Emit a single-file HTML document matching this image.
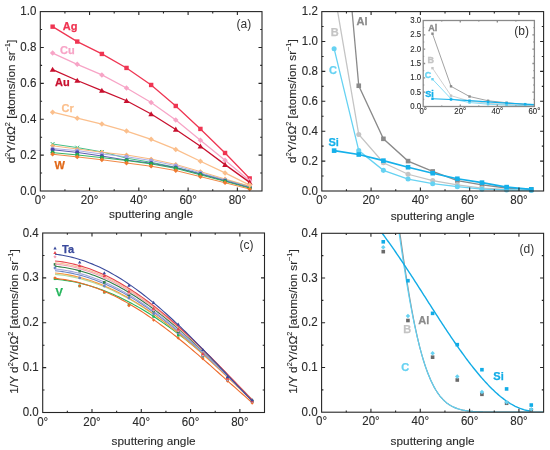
<!DOCTYPE html><html><head><meta charset="utf-8"><style>html,body{margin:0;padding:0;background:#fff;width:550px;height:450px;overflow:hidden}svg{display:block;filter:blur(0.3px)}text{font-family:"Liberation Sans",sans-serif}.k{stroke:#2a2a2a;stroke-width:0.12px}</style></head><body>
<svg width="550" height="450" viewBox="0 0 550 450" fill="#2a2a2a">
<defs>
<clipPath id="ca"><rect x="40.3" y="11.6" width="221.7" height="179.4"/></clipPath>
<clipPath id="cb"><rect x="321.8" y="11.6" width="221.8" height="179.4"/></clipPath>
<clipPath id="cc"><rect x="42.7" y="233" width="221.8" height="179.5"/></clipPath>
<clipPath id="cd"><rect x="321.6" y="233.3" width="222" height="178.9"/></clipPath>
<clipPath id="ci"><rect x="423.2" y="20.5" width="111.2" height="86"/></clipPath>
</defs>
<polyline points="52.62,144 77.25,147.59 101.88,151.89 126.52,158.17 151.15,162.3 175.78,167.32 200.42,173.6 225.05,179.88 249.68,186.34" fill="none" stroke="#30b878" stroke-width="0.9"/>
<path d="M50.72 142.1L54.52 145.9M50.72 145.9L54.52 142.1" stroke="#30b878" stroke-width="1"/>
<path d="M75.35 145.69L79.15 149.49M75.35 149.49L79.15 145.69" stroke="#30b878" stroke-width="1"/>
<path d="M99.98 149.99L103.78 153.79M99.98 153.79L103.78 149.99" stroke="#30b878" stroke-width="1"/>
<path d="M124.62 156.27L128.42 160.07M124.62 160.07L128.42 156.27" stroke="#30b878" stroke-width="1"/>
<path d="M149.25 160.4L153.05 164.2M149.25 164.2L153.05 160.4" stroke="#30b878" stroke-width="1"/>
<path d="M173.88 165.42L177.68 169.22M173.88 169.22L177.68 165.42" stroke="#30b878" stroke-width="1"/>
<path d="M198.52 171.7L202.32 175.5M198.52 175.5L202.32 171.7" stroke="#30b878" stroke-width="1"/>
<path d="M223.15 177.98L226.95 181.78M223.15 181.78L226.95 177.98" stroke="#30b878" stroke-width="1"/>
<path d="M247.78 184.44L251.58 188.24M247.78 188.24L251.58 184.44" stroke="#30b878" stroke-width="1"/>
<polyline points="52.62,145.79 77.25,149.02 101.88,152.25 126.52,154.94 151.15,159.07 175.78,164.45 200.42,171.62 225.05,178.98 249.68,186.16" fill="none" stroke="#f8b070" stroke-width="0.9"/>
<polygon points="52.62,143.42 54.99,145.79 52.62,148.17 50.24,145.79" fill="#f8b070"/>
<polygon points="77.25,146.65 79.62,149.02 77.25,151.4 74.88,149.02" fill="#f8b070"/>
<polygon points="101.88,149.87 104.26,152.25 101.88,154.62 99.51,152.25" fill="#f8b070"/>
<polygon points="126.52,152.57 128.89,154.94 126.52,157.32 124.14,154.94" fill="#f8b070"/>
<polygon points="151.15,156.69 153.52,159.07 151.15,161.44 148.77,159.07" fill="#f8b070"/>
<polygon points="175.78,162.07 178.16,164.45 175.78,166.82 173.41,164.45" fill="#f8b070"/>
<polygon points="200.42,169.25 202.79,171.62 200.42,174 198.04,171.62" fill="#f8b070"/>
<polygon points="225.05,176.61 227.43,178.98 225.05,181.36 222.68,178.98" fill="#f8b070"/>
<polygon points="249.68,183.78 252.06,186.16 249.68,188.53 247.31,186.16" fill="#f8b070"/>
<polyline points="52.62,148.48 77.25,150.63 101.88,154.04 126.52,156.73 151.15,160.5 175.78,165.7 200.42,172.88 225.05,180.06 249.68,187.23" fill="none" stroke="#a4a4e2" stroke-width="0.9"/>
<circle cx="52.62" cy="148.48" r="2.09" fill="#a4a4e2"/>
<circle cx="77.25" cy="150.63" r="2.09" fill="#a4a4e2"/>
<circle cx="101.88" cy="154.04" r="2.09" fill="#a4a4e2"/>
<circle cx="126.52" cy="156.73" r="2.09" fill="#a4a4e2"/>
<circle cx="151.15" cy="160.5" r="2.09" fill="#a4a4e2"/>
<circle cx="175.78" cy="165.7" r="2.09" fill="#a4a4e2"/>
<circle cx="200.42" cy="172.88" r="2.09" fill="#a4a4e2"/>
<circle cx="225.05" cy="180.06" r="2.09" fill="#a4a4e2"/>
<circle cx="249.68" cy="187.23" r="2.09" fill="#a4a4e2"/>
<polyline points="52.62,149.74 77.25,152.43 101.88,156.02 126.52,160.14 151.15,163.19 175.78,167.68 200.42,174.14 225.05,180.77 249.68,187.59" fill="none" stroke="#4848a8" stroke-width="0.9"/>
<circle cx="52.62" cy="149.74" r="2.09" fill="#4848a8"/>
<circle cx="77.25" cy="152.43" r="2.09" fill="#4848a8"/>
<circle cx="101.88" cy="156.02" r="2.09" fill="#4848a8"/>
<circle cx="126.52" cy="160.14" r="2.09" fill="#4848a8"/>
<circle cx="151.15" cy="163.19" r="2.09" fill="#4848a8"/>
<circle cx="175.78" cy="167.68" r="2.09" fill="#4848a8"/>
<circle cx="200.42" cy="174.14" r="2.09" fill="#4848a8"/>
<circle cx="225.05" cy="180.77" r="2.09" fill="#4848a8"/>
<circle cx="249.68" cy="187.59" r="2.09" fill="#4848a8"/>
<polyline points="52.62,152.61 77.25,154.94 101.88,157.63 126.52,160.5 151.15,163.91 175.78,168.4 200.42,174.85 225.05,181.31 249.68,188.13" fill="none" stroke="#22aa52" stroke-width="0.9"/>
<circle cx="52.62" cy="152.61" r="2.09" fill="#22aa52"/>
<circle cx="77.25" cy="154.94" r="2.09" fill="#22aa52"/>
<circle cx="101.88" cy="157.63" r="2.09" fill="#22aa52"/>
<circle cx="126.52" cy="160.5" r="2.09" fill="#22aa52"/>
<circle cx="151.15" cy="163.91" r="2.09" fill="#22aa52"/>
<circle cx="175.78" cy="168.4" r="2.09" fill="#22aa52"/>
<circle cx="200.42" cy="174.85" r="2.09" fill="#22aa52"/>
<circle cx="225.05" cy="181.31" r="2.09" fill="#22aa52"/>
<circle cx="249.68" cy="188.13" r="2.09" fill="#22aa52"/>
<polyline points="52.62,154.22 77.25,156.91 101.88,159.78 126.52,163.01 151.15,166.24 175.78,170.55 200.42,176.65 225.05,182.75 249.68,189.03" fill="none" stroke="#ee7a30" stroke-width="0.9"/>
<polygon points="52.62,151.85 54.99,154.22 52.62,156.6 50.24,154.22" fill="#ee7a30"/>
<polygon points="77.25,154.54 79.62,156.91 77.25,159.29 74.88,156.91" fill="#ee7a30"/>
<polygon points="101.88,157.41 104.26,159.78 101.88,162.16 99.51,159.78" fill="#ee7a30"/>
<polygon points="126.52,160.64 128.89,163.01 126.52,165.39 124.14,163.01" fill="#ee7a30"/>
<polygon points="151.15,163.87 153.52,166.24 151.15,168.62 148.77,166.24" fill="#ee7a30"/>
<polygon points="175.78,168.17 178.16,170.55 175.78,172.92 173.41,170.55" fill="#ee7a30"/>
<polygon points="200.42,174.27 202.79,176.65 200.42,179.02 198.04,176.65" fill="#ee7a30"/>
<polygon points="225.05,180.37 227.43,182.75 225.05,185.12 222.68,182.75" fill="#ee7a30"/>
<polygon points="249.68,186.65 252.06,189.03 249.68,191.4 247.31,189.03" fill="#ee7a30"/>
<polyline points="52.62,26.67 77.25,41.56 101.88,53.94 126.52,67.93 151.15,84.97 175.78,105.96 200.42,128.93 225.05,152.97 249.68,178.44" fill="none" stroke="#ef3552" stroke-width="1.3"/>
<rect x="50.42" y="24.47" width="4.4" height="4.4" fill="#ef3552"/>
<rect x="75.05" y="39.36" width="4.4" height="4.4" fill="#ef3552"/>
<rect x="99.68" y="51.74" width="4.4" height="4.4" fill="#ef3552"/>
<rect x="124.32" y="65.73" width="4.4" height="4.4" fill="#ef3552"/>
<rect x="148.95" y="82.77" width="4.4" height="4.4" fill="#ef3552"/>
<rect x="173.58" y="103.76" width="4.4" height="4.4" fill="#ef3552"/>
<rect x="198.22" y="126.73" width="4.4" height="4.4" fill="#ef3552"/>
<rect x="222.85" y="150.77" width="4.4" height="4.4" fill="#ef3552"/>
<rect x="247.48" y="176.24" width="4.4" height="4.4" fill="#ef3552"/>
<polyline points="52.62,53.04 77.25,64.34 101.88,74.93 126.52,88.02 151.15,102.56 175.78,119.96 200.42,140.23 225.05,160.14 249.68,180.77" fill="none" stroke="#f7a4c6" stroke-width="1.3"/>
<polygon points="52.62,50.29 55.37,53.04 52.62,55.79 49.87,53.04" fill="#f7a4c6"/>
<polygon points="77.25,61.59 80,64.34 77.25,67.09 74.5,64.34" fill="#f7a4c6"/>
<polygon points="101.88,72.18 104.63,74.93 101.88,77.68 99.13,74.93" fill="#f7a4c6"/>
<polygon points="126.52,85.27 129.27,88.02 126.52,90.77 123.77,88.02" fill="#f7a4c6"/>
<polygon points="151.15,99.81 153.9,102.56 151.15,105.31 148.4,102.56" fill="#f7a4c6"/>
<polygon points="175.78,117.21 178.53,119.96 175.78,122.71 173.03,119.96" fill="#f7a4c6"/>
<polygon points="200.42,137.48 203.17,140.23 200.42,142.98 197.67,140.23" fill="#f7a4c6"/>
<polygon points="225.05,157.39 227.8,160.14 225.05,162.89 222.3,160.14" fill="#f7a4c6"/>
<polygon points="249.68,178.02 252.43,180.77 249.68,183.52 246.93,180.77" fill="#f7a4c6"/>
<polyline points="52.62,69.55 77.25,80.49 101.88,90.54 126.52,100.76 151.15,114.04 175.78,129.47 200.42,146.33 225.05,164.63 249.68,182.39" fill="none" stroke="#c8102e" stroke-width="1.3"/>
<polygon points="52.62,66.69 55.48,71.83 49.76,71.83" fill="#c8102e"/>
<polygon points="77.25,77.63 80.11,82.78 74.39,82.78" fill="#c8102e"/>
<polygon points="101.88,87.68 104.74,92.82 99.02,92.82" fill="#c8102e"/>
<polygon points="126.52,97.9 129.38,103.05 123.66,103.05" fill="#c8102e"/>
<polygon points="151.15,111.18 154.01,116.33 148.29,116.33" fill="#c8102e"/>
<polygon points="175.78,126.61 178.64,131.75 172.92,131.75" fill="#c8102e"/>
<polygon points="200.42,143.47 203.28,148.62 197.56,148.62" fill="#c8102e"/>
<polygon points="225.05,161.77 227.91,166.92 222.19,166.92" fill="#c8102e"/>
<polygon points="249.68,179.53 252.54,184.68 246.82,184.68" fill="#c8102e"/>
<polyline points="52.62,112.24 77.25,118.16 101.88,124.08 126.52,131.08 151.15,139.33 175.78,149.38 200.42,161.22 225.05,172.88 249.68,185.08" fill="none" stroke="#fbbf8c" stroke-width="1.3"/>
<polygon points="52.62,109.49 55.37,112.24 52.62,114.99 49.87,112.24" fill="#fbbf8c"/>
<polygon points="77.25,115.41 80,118.16 77.25,120.91 74.5,118.16" fill="#fbbf8c"/>
<polygon points="101.88,121.33 104.63,124.08 101.88,126.83 99.13,124.08" fill="#fbbf8c"/>
<polygon points="126.52,128.33 129.27,131.08 126.52,133.83 123.77,131.08" fill="#fbbf8c"/>
<polygon points="151.15,136.58 153.9,139.33 151.15,142.08 148.4,139.33" fill="#fbbf8c"/>
<polygon points="175.78,146.63 178.53,149.38 175.78,152.13 173.03,149.38" fill="#fbbf8c"/>
<polygon points="200.42,158.47 203.17,161.22 200.42,163.97 197.67,161.22" fill="#fbbf8c"/>
<polygon points="225.05,170.13 227.8,172.88 225.05,175.63 222.3,172.88" fill="#fbbf8c"/>
<polygon points="249.68,182.33 252.43,185.08 249.68,187.83 246.93,185.08" fill="#fbbf8c"/>
<rect x="40.3" y="11.6" width="221.7" height="179.4" fill="none" stroke="#262626" stroke-width="1.1"/>
<path d="M64.93 191v-1.8 M64.93 11.6v1.8 M89.57 191v-3.5 M89.57 11.6v3.5 M114.2 191v-1.8 M114.2 11.6v1.8 M138.83 191v-3.5 M138.83 11.6v3.5 M163.47 191v-1.8 M163.47 11.6v1.8 M188.1 191v-3.5 M188.1 11.6v3.5 M212.73 191v-1.8 M212.73 11.6v1.8 M237.37 191v-3.5 M237.37 11.6v3.5 M40.3 173.06h1.8 M262 173.06h-1.8 M40.3 155.12h3.5 M262 155.12h-3.5 M40.3 137.18h1.8 M262 137.18h-1.8 M40.3 119.24h3.5 M262 119.24h-3.5 M40.3 101.3h1.8 M262 101.3h-1.8 M40.3 83.36h3.5 M262 83.36h-3.5 M40.3 65.42h1.8 M262 65.42h-1.8 M40.3 47.48h3.5 M262 47.48h-3.5 M40.3 29.54h1.8 M262 29.54h-1.8" stroke="#262626" stroke-width="1.1" fill="none"/>
<text class="k" transform="translate(36.3 194.6) scale(0.93 1)" text-anchor="end" font-size="12.4">0.0</text>
<text class="k" transform="translate(36.3 158.72) scale(0.93 1)" text-anchor="end" font-size="12.4">0.2</text>
<text class="k" transform="translate(36.3 122.84) scale(0.93 1)" text-anchor="end" font-size="12.4">0.4</text>
<text class="k" transform="translate(36.3 86.96) scale(0.93 1)" text-anchor="end" font-size="12.4">0.6</text>
<text class="k" transform="translate(36.3 51.08) scale(0.93 1)" text-anchor="end" font-size="12.4">0.8</text>
<text class="k" transform="translate(36.3 15.2) scale(0.93 1)" text-anchor="end" font-size="12.4">1.0</text>
<text class="k" transform="translate(40.3 204) scale(0.93 1)" text-anchor="middle" font-size="12.4">0°</text>
<text class="k" transform="translate(89.57 204) scale(0.93 1)" text-anchor="middle" font-size="12.4">20°</text>
<text class="k" transform="translate(138.83 204) scale(0.93 1)" text-anchor="middle" font-size="12.4">40°</text>
<text class="k" transform="translate(188.1 204) scale(0.93 1)" text-anchor="middle" font-size="12.4">60°</text>
<text class="k" transform="translate(237.37 204) scale(0.93 1)" text-anchor="middle" font-size="12.4">80°</text>
<text x="62.8" y="29.7" fill="#ef3552" font-size="11" font-weight="bold" text-anchor="start" stroke="#ef3552" stroke-width="0.25">Ag</text>
<text x="60" y="54" fill="#f7a4c6" font-size="11" font-weight="bold" text-anchor="start" stroke="#f7a4c6" stroke-width="0.25">Cu</text>
<text x="55" y="85.5" fill="#c8102e" font-size="11" font-weight="bold" text-anchor="start" stroke="#c8102e" stroke-width="0.25">Au</text>
<text x="61.5" y="112" fill="#fbbf8c" font-size="11" font-weight="bold" text-anchor="start" stroke="#fbbf8c" stroke-width="0.25">Cr</text>
<text x="54.5" y="168.8" fill="#e06818" font-size="11" font-weight="bold" text-anchor="start" stroke="#e06818" stroke-width="0.25">W</text>
<text x="236.5" y="28.2" fill="#333" font-size="12" text-anchor="start">(a)</text>
<polyline points="334.12,-188.73 358.77,85.75 383.41,138.82 408.06,161.1 432.7,171.42 457.34,180.53 481.99,184.87 506.63,188.01 531.28,189.5" fill="none" stroke="#8a8a8a" stroke-width="1.3" clip-path="url(#cb)"/>
<rect x="356.47" y="83.45" width="4.6" height="4.6" fill="#8a8a8a"/>
<rect x="381.11" y="136.52" width="4.6" height="4.6" fill="#8a8a8a"/>
<rect x="405.76" y="158.8" width="4.6" height="4.6" fill="#8a8a8a"/>
<rect x="430.4" y="169.12" width="4.6" height="4.6" fill="#8a8a8a"/>
<rect x="455.04" y="178.23" width="4.6" height="4.6" fill="#8a8a8a"/>
<rect x="479.69" y="182.57" width="4.6" height="4.6" fill="#8a8a8a"/>
<rect x="504.33" y="185.71" width="4.6" height="4.6" fill="#8a8a8a"/>
<rect x="528.98" y="187.2" width="4.6" height="4.6" fill="#8a8a8a"/>
<polyline points="334.12,-8.88 358.77,134.49 383.41,162.74 408.06,174.26 432.7,180.53 457.34,184.87 481.99,188.16 506.63,189.5 531.28,190.25" fill="none" stroke="#c4c4c4" stroke-width="1.3" clip-path="url(#cb)"/>
<circle cx="358.77" cy="134.49" r="2.53" fill="#c4c4c4"/>
<circle cx="383.41" cy="162.74" r="2.53" fill="#c4c4c4"/>
<circle cx="408.06" cy="174.26" r="2.53" fill="#c4c4c4"/>
<circle cx="432.7" cy="180.53" r="2.53" fill="#c4c4c4"/>
<circle cx="457.34" cy="184.87" r="2.53" fill="#c4c4c4"/>
<circle cx="481.99" cy="188.16" r="2.53" fill="#c4c4c4"/>
<circle cx="506.63" cy="189.5" r="2.53" fill="#c4c4c4"/>
<circle cx="531.28" cy="190.25" r="2.53" fill="#c4c4c4"/>
<polyline points="334.12,48.68 358.77,150.63 383.41,170.37 408.06,179.04 432.7,183.67 457.34,186.66 481.99,189.21 506.63,189.95 531.28,190.4" fill="none" stroke="#66d2f2" stroke-width="1.3" clip-path="url(#cb)"/>
<circle cx="334.12" cy="48.68" r="2.53" fill="#66d2f2"/>
<circle cx="358.77" cy="150.63" r="2.53" fill="#66d2f2"/>
<circle cx="383.41" cy="170.37" r="2.53" fill="#66d2f2"/>
<circle cx="408.06" cy="179.04" r="2.53" fill="#66d2f2"/>
<circle cx="432.7" cy="183.67" r="2.53" fill="#66d2f2"/>
<circle cx="457.34" cy="186.66" r="2.53" fill="#66d2f2"/>
<circle cx="481.99" cy="189.21" r="2.53" fill="#66d2f2"/>
<circle cx="506.63" cy="189.95" r="2.53" fill="#66d2f2"/>
<circle cx="531.28" cy="190.4" r="2.53" fill="#66d2f2"/>
<polyline points="334.12,150.63 358.77,154.52 383.41,160.65 408.06,167.23 432.7,173.21 457.34,178.74 481.99,182.63 506.63,187.11 531.28,189.36" fill="none" stroke="#14b0ea" stroke-width="1.7" clip-path="url(#cb)"/>
<rect x="331.82" y="148.33" width="4.6" height="4.6" fill="#14b0ea"/>
<rect x="356.47" y="152.22" width="4.6" height="4.6" fill="#14b0ea"/>
<rect x="381.11" y="158.35" width="4.6" height="4.6" fill="#14b0ea"/>
<rect x="405.76" y="164.93" width="4.6" height="4.6" fill="#14b0ea"/>
<rect x="430.4" y="170.91" width="4.6" height="4.6" fill="#14b0ea"/>
<rect x="455.04" y="176.44" width="4.6" height="4.6" fill="#14b0ea"/>
<rect x="479.69" y="180.33" width="4.6" height="4.6" fill="#14b0ea"/>
<rect x="504.33" y="184.81" width="4.6" height="4.6" fill="#14b0ea"/>
<rect x="528.98" y="187.06" width="4.6" height="4.6" fill="#14b0ea"/>
<rect x="321.8" y="11.6" width="221.8" height="179.4" fill="none" stroke="#262626" stroke-width="1.1"/>
<path d="M346.44 191v-1.8 M346.44 11.6v1.8 M371.09 191v-3.5 M371.09 11.6v3.5 M395.73 191v-1.8 M395.73 11.6v1.8 M420.38 191v-3.5 M420.38 11.6v3.5 M445.02 191v-1.8 M445.02 11.6v1.8 M469.67 191v-3.5 M469.67 11.6v3.5 M494.31 191v-1.8 M494.31 11.6v1.8 M518.96 191v-3.5 M518.96 11.6v3.5 M321.8 176.05h1.8 M543.6 176.05h-1.8 M321.8 161.1h3.5 M543.6 161.1h-3.5 M321.8 146.15h1.8 M543.6 146.15h-1.8 M321.8 131.2h3.5 M543.6 131.2h-3.5 M321.8 116.25h1.8 M543.6 116.25h-1.8 M321.8 101.3h3.5 M543.6 101.3h-3.5 M321.8 86.35h1.8 M543.6 86.35h-1.8 M321.8 71.4h3.5 M543.6 71.4h-3.5 M321.8 56.45h1.8 M543.6 56.45h-1.8 M321.8 41.5h3.5 M543.6 41.5h-3.5 M321.8 26.55h1.8 M543.6 26.55h-1.8" stroke="#262626" stroke-width="1.1" fill="none"/>
<text class="k" transform="translate(317.8 194.6) scale(0.93 1)" text-anchor="end" font-size="12.4">0.0</text>
<text class="k" transform="translate(317.8 164.7) scale(0.93 1)" text-anchor="end" font-size="12.4">0.2</text>
<text class="k" transform="translate(317.8 134.8) scale(0.93 1)" text-anchor="end" font-size="12.4">0.4</text>
<text class="k" transform="translate(317.8 104.9) scale(0.93 1)" text-anchor="end" font-size="12.4">0.6</text>
<text class="k" transform="translate(317.8 75) scale(0.93 1)" text-anchor="end" font-size="12.4">0.8</text>
<text class="k" transform="translate(317.8 45.1) scale(0.93 1)" text-anchor="end" font-size="12.4">1.0</text>
<text class="k" transform="translate(317.8 15.2) scale(0.93 1)" text-anchor="end" font-size="12.4">1.2</text>
<text class="k" transform="translate(321.8 204) scale(0.93 1)" text-anchor="middle" font-size="12.4">0°</text>
<text class="k" transform="translate(371.09 204) scale(0.93 1)" text-anchor="middle" font-size="12.4">20°</text>
<text class="k" transform="translate(420.38 204) scale(0.93 1)" text-anchor="middle" font-size="12.4">40°</text>
<text class="k" transform="translate(469.67 204) scale(0.93 1)" text-anchor="middle" font-size="12.4">60°</text>
<text class="k" transform="translate(518.96 204) scale(0.93 1)" text-anchor="middle" font-size="12.4">80°</text>
<text x="356.5" y="25.2" fill="#8a8a8a" font-size="11" font-weight="bold" text-anchor="start" stroke="#8a8a8a" stroke-width="0.25">Al</text>
<text x="330.8" y="35.7" fill="#c4c4c4" font-size="11" font-weight="bold" text-anchor="start" stroke="#c4c4c4" stroke-width="0.25">B</text>
<text x="329" y="73.6" fill="#66d2f2" font-size="11" font-weight="bold" text-anchor="start" stroke="#66d2f2" stroke-width="0.25">C</text>
<text x="328.5" y="145.8" fill="#14b0ea" font-size="11" font-weight="bold" text-anchor="start" stroke="#14b0ea" stroke-width="0.25">Si</text>
<rect x="423.2" y="20.5" width="111.2" height="86" fill="#fff"/>
<polyline points="432.47,33.69 451,86.32 469.53,96.5 488.07,100.77 506.6,102.74 525.13,104.49 543.67,105.32" fill="none" stroke="#8a8a8a" stroke-width="0.8" clip-path="url(#ci)"/>
<rect x="431.27" y="32.49" width="2.4" height="2.4" fill="#8a8a8a"/>
<rect x="449.8" y="85.12" width="2.4" height="2.4" fill="#8a8a8a"/>
<rect x="468.33" y="95.3" width="2.4" height="2.4" fill="#8a8a8a"/>
<rect x="486.87" y="99.57" width="2.4" height="2.4" fill="#8a8a8a"/>
<rect x="505.4" y="101.54" width="2.4" height="2.4" fill="#8a8a8a"/>
<rect x="523.93" y="103.29" width="2.4" height="2.4" fill="#8a8a8a"/>
<polyline points="432.47,68.17 451,95.66 469.53,101.08 488.07,103.29 506.6,104.49 525.13,105.32 543.67,105.96" fill="none" stroke="#c4c4c4" stroke-width="0.8" clip-path="url(#ci)"/>
<rect x="431.27" y="66.97" width="2.4" height="2.4" fill="#c4c4c4"/>
<rect x="449.8" y="94.46" width="2.4" height="2.4" fill="#c4c4c4"/>
<rect x="468.33" y="99.88" width="2.4" height="2.4" fill="#c4c4c4"/>
<rect x="486.87" y="102.09" width="2.4" height="2.4" fill="#c4c4c4"/>
<rect x="505.4" y="103.29" width="2.4" height="2.4" fill="#c4c4c4"/>
<rect x="523.93" y="104.12" width="2.4" height="2.4" fill="#c4c4c4"/>
<polyline points="432.47,79.21 451,98.76 469.53,102.54 488.07,104.21 506.6,105.1 525.13,105.67 543.67,106.16" fill="none" stroke="#66d2f2" stroke-width="0.8" clip-path="url(#ci)"/>
<rect x="431.27" y="78.01" width="2.4" height="2.4" fill="#66d2f2"/>
<rect x="449.8" y="97.56" width="2.4" height="2.4" fill="#66d2f2"/>
<rect x="468.33" y="101.34" width="2.4" height="2.4" fill="#66d2f2"/>
<rect x="486.87" y="103.01" width="2.4" height="2.4" fill="#66d2f2"/>
<rect x="505.4" y="103.9" width="2.4" height="2.4" fill="#66d2f2"/>
<rect x="523.93" y="104.47" width="2.4" height="2.4" fill="#66d2f2"/>
<polyline points="432.47,98.76 451,99.51 469.53,100.68 488.07,101.94 506.6,103.09 525.13,104.15 543.67,104.89" fill="none" stroke="#14b0ea" stroke-width="1.2" clip-path="url(#ci)"/>
<rect x="431.27" y="97.56" width="2.4" height="2.4" fill="#14b0ea"/>
<rect x="449.8" y="98.31" width="2.4" height="2.4" fill="#14b0ea"/>
<rect x="468.33" y="99.48" width="2.4" height="2.4" fill="#14b0ea"/>
<rect x="486.87" y="100.74" width="2.4" height="2.4" fill="#14b0ea"/>
<rect x="505.4" y="101.89" width="2.4" height="2.4" fill="#14b0ea"/>
<rect x="523.93" y="102.95" width="2.4" height="2.4" fill="#14b0ea"/>
<rect x="423.2" y="20.5" width="111.2" height="86" fill="none" stroke="#8a8a8a" stroke-width="1.3"/>
<path d="M441.73 106.5v-1 M441.73 20.5v1 M460.27 106.5v-2 M460.27 20.5v2 M478.8 106.5v-1 M478.8 20.5v1 M497.33 106.5v-2 M497.33 20.5v2 M515.87 106.5v-1 M515.87 20.5v1 M423.2 99.33h1 M534.4 99.33h-1 M423.2 92.17h2 M534.4 92.17h-2 M423.2 85h1 M534.4 85h-1 M423.2 77.83h2 M534.4 77.83h-2 M423.2 70.67h1 M534.4 70.67h-1 M423.2 63.5h2 M534.4 63.5h-2 M423.2 56.33h1 M534.4 56.33h-1 M423.2 49.17h2 M534.4 49.17h-2 M423.2 42h1 M534.4 42h-1 M423.2 34.83h2 M534.4 34.83h-2 M423.2 27.67h1 M534.4 27.67h-1" stroke="#8a8a8a" stroke-width="1.3" fill="none"/>
<text class="k" transform="translate(421.2 108.94) scale(0.93 1)" text-anchor="end" font-size="8.4">0.0</text>
<text class="k" transform="translate(421.2 94.6) scale(0.93 1)" text-anchor="end" font-size="8.4">0.5</text>
<text class="k" transform="translate(421.2 80.27) scale(0.93 1)" text-anchor="end" font-size="8.4">1.0</text>
<text class="k" transform="translate(421.2 65.94) scale(0.93 1)" text-anchor="end" font-size="8.4">1.5</text>
<text class="k" transform="translate(421.2 51.6) scale(0.93 1)" text-anchor="end" font-size="8.4">2.0</text>
<text class="k" transform="translate(421.2 37.27) scale(0.93 1)" text-anchor="end" font-size="8.4">2.5</text>
<text class="k" transform="translate(421.2 22.94) scale(0.93 1)" text-anchor="end" font-size="8.4">3.0</text>
<text class="k" transform="translate(423.2 114.3) scale(0.93 1)" text-anchor="middle" font-size="8.4">0°</text>
<text class="k" transform="translate(460.27 114.3) scale(0.93 1)" text-anchor="middle" font-size="8.4">20°</text>
<text class="k" transform="translate(497.33 114.3) scale(0.93 1)" text-anchor="middle" font-size="8.4">40°</text>
<text class="k" transform="translate(534.4 114.3) scale(0.93 1)" text-anchor="middle" font-size="8.4">60°</text>
<text x="428.3" y="31.4" fill="#8a8a8a" font-size="9" font-weight="bold" text-anchor="start" stroke="#8a8a8a" stroke-width="0.35">Al</text>
<text x="427.4" y="63" fill="#c4c4c4" font-size="9" font-weight="bold" text-anchor="start" stroke="#c4c4c4" stroke-width="0.35">B</text>
<text x="424.8" y="77.5" fill="#66d2f2" font-size="9" font-weight="bold" text-anchor="start" stroke="#66d2f2" stroke-width="0.35">C</text>
<text x="425.3" y="97.3" fill="#14b0ea" font-size="9" font-weight="bold" text-anchor="start" stroke="#14b0ea" stroke-width="0.35">Si</text>
<text x="514.3" y="35.2" fill="#333" font-size="12" text-anchor="start">(b)</text>
<polyline points="55.02,279.26 57.49,279.47 59.95,279.72 62.42,280.02 64.88,280.34 67.34,280.71 69.81,281.12 72.27,281.56 74.74,282.05 77.2,282.57 79.67,283.13 82.13,283.72 84.6,284.36 87.06,285.03 89.52,285.74 91.99,286.48 94.45,287.27 96.92,288.09 99.38,288.94 101.85,289.83 104.31,290.76 106.78,291.73 109.24,292.72 111.7,293.76 114.17,294.83 116.63,295.93 119.1,297.07 121.56,298.24 124.03,299.45 126.49,300.69 128.96,301.96 131.42,303.27 133.88,304.61 136.35,305.98 138.81,307.38 141.28,308.82 143.74,310.28 146.21,311.78 148.67,313.31 151.14,314.86 153.6,316.45 156.06,318.06 158.53,319.71 160.99,321.38 163.46,323.08 165.92,324.81 168.39,326.56 170.85,328.34 173.32,330.15 175.78,331.99 178.24,333.85 180.71,335.73 183.17,337.64 185.64,339.57 188.1,341.53 190.57,343.51 193.03,345.51 195.5,347.54 197.96,349.58 200.42,351.65 202.89,353.74 205.35,355.85 207.82,357.98 210.28,360.13 212.75,362.3 215.21,364.49 217.68,366.7 220.14,368.92 222.6,371.17 225.07,373.43 227.53,375.71 230,378.01 232.46,380.32 234.93,382.65 237.39,385 239.86,387.37 242.32,389.75 244.78,392.15 247.25,394.58 249.71,397.02 252.18,399.49" fill="none" stroke="#22b45a" stroke-width="1.1"/>
<rect x="53.72" y="277.47" width="2.6" height="2.6" fill="#22b45a"/>
<rect x="78.37" y="284.65" width="2.6" height="2.6" fill="#22b45a"/>
<rect x="103.01" y="290.94" width="2.6" height="2.6" fill="#22b45a"/>
<rect x="127.66" y="303.5" width="2.6" height="2.6" fill="#22b45a"/>
<rect x="152.3" y="315.17" width="2.6" height="2.6" fill="#22b45a"/>
<rect x="176.94" y="334.01" width="2.6" height="2.6" fill="#22b45a"/>
<rect x="201.59" y="355.11" width="2.6" height="2.6" fill="#22b45a"/>
<rect x="226.23" y="377.99" width="2.6" height="2.6" fill="#22b45a"/>
<rect x="250.88" y="400.43" width="2.6" height="2.6" fill="#22b45a"/>
<polyline points="55.02,278.42 57.49,278.66 59.95,278.95 62.42,279.28 64.88,279.65 67.34,280.06 69.81,280.52 72.27,281.02 74.74,281.57 77.2,282.15 79.67,282.78 82.13,283.45 84.6,284.16 87.06,284.92 89.52,285.71 91.99,286.55 94.45,287.43 96.92,288.34 99.38,289.3 101.85,290.3 104.31,291.33 106.78,292.41 109.24,293.52 111.7,294.68 114.17,295.87 116.63,297.09 119.1,298.36 121.56,299.66 124.03,300.99 126.49,302.36 128.96,303.77 131.42,305.21 133.88,306.68 136.35,308.19 138.81,309.73 141.28,311.3 143.74,312.9 146.21,314.53 148.67,316.2 151.14,317.89 153.6,319.61 156.06,321.36 158.53,323.14 160.99,324.94 163.46,326.77 165.92,328.63 168.39,330.51 170.85,332.41 173.32,334.34 175.78,336.29 178.24,338.26 180.71,340.25 183.17,342.26 185.64,344.29 188.1,346.34 190.57,348.41 193.03,350.49 195.5,352.59 197.96,354.7 200.42,356.83 202.89,358.97 205.35,361.12 207.82,363.28 210.28,365.45 212.75,367.63 215.21,369.82 217.68,372.02 220.14,374.22 222.6,376.42 225.07,378.63 227.53,380.83 230,383.04 232.46,385.25 234.93,387.45 237.39,389.65 239.86,391.85 242.32,394.03 244.78,396.2 247.25,398.36 249.71,400.51 252.18,402.63" fill="none" stroke="#ee6a2a" stroke-width="1.1"/>
<polygon points="55.02,276.25 56.65,277.88 55.02,279.5 53.4,277.88" fill="#ee6a2a"/>
<polygon points="79.67,284.33 81.29,285.95 79.67,287.58 78.04,285.95" fill="#ee6a2a"/>
<polygon points="104.31,290.61 105.94,292.24 104.31,293.86 102.69,292.24" fill="#ee6a2a"/>
<polygon points="128.96,304.07 130.58,305.7 128.96,307.32 127.33,305.7" fill="#ee6a2a"/>
<polygon points="153.6,318.43 155.23,320.06 153.6,321.68 151.98,320.06" fill="#ee6a2a"/>
<polygon points="178.24,336.38 179.87,338.01 178.24,339.63 176.62,338.01" fill="#ee6a2a"/>
<polygon points="202.89,357.02 204.51,358.65 202.89,360.27 201.26,358.65" fill="#ee6a2a"/>
<polygon points="227.53,379.46 229.16,381.09 227.53,382.71 225.91,381.09" fill="#ee6a2a"/>
<polygon points="252.18,401.45 253.8,403.08 252.18,404.7 250.55,403.08" fill="#ee6a2a"/>
<polyline points="55.02,274.36 57.49,274.6 59.95,274.87 62.42,275.18 64.88,275.54 67.34,275.94 69.81,276.38 72.27,276.86 74.74,277.39 77.2,277.95 79.67,278.56 82.13,279.2 84.6,279.89 87.06,280.62 89.52,281.38 91.99,282.19 94.45,283.04 96.92,283.92 99.38,284.85 101.85,285.81 104.31,286.82 106.78,287.86 109.24,288.93 111.7,290.05 114.17,291.2 116.63,292.4 119.1,293.62 121.56,294.89 124.03,296.19 126.49,297.52 128.96,298.89 131.42,300.29 133.88,301.73 136.35,303.2 138.81,304.71 141.28,306.25 143.74,307.82 146.21,309.42 148.67,311.05 151.14,312.72 153.6,314.41 156.06,316.14 158.53,317.89 160.99,319.68 163.46,321.49 165.92,323.33 168.39,325.19 170.85,327.09 173.32,329.01 175.78,330.95 178.24,332.92 180.71,334.91 183.17,336.93 185.64,338.97 188.1,341.03 190.57,343.12 193.03,345.22 195.5,347.35 197.96,349.5 200.42,351.66 202.89,353.85 205.35,356.05 207.82,358.27 210.28,360.5 212.75,362.75 215.21,365.02 217.68,367.3 220.14,369.6 222.6,371.91 225.07,374.23 227.53,376.56 230,378.9 232.46,381.26 234.93,383.62 237.39,386 239.86,388.38 242.32,390.77 244.78,393.16 247.25,395.56 249.71,397.97 252.18,400.38" fill="none" stroke="#b0dca0" stroke-width="1.1"/>
<polyline points="55.02,273.03 57.49,273.27 59.95,273.55 62.42,273.88 64.88,274.25 67.34,274.66 69.81,275.11 72.27,275.61 74.74,276.14 77.2,276.72 79.67,277.35 82.13,278.01 84.6,278.72 87.06,279.47 89.52,280.25 91.99,281.08 94.45,281.95 96.92,282.87 99.38,283.82 101.85,284.81 104.31,285.84 106.78,286.91 109.24,288.01 111.7,289.16 114.17,290.35 116.63,291.57 119.1,292.83 121.56,294.12 124.03,295.46 126.49,296.83 128.96,298.23 131.42,299.67 133.88,301.14 136.35,302.65 138.81,304.19 141.28,305.77 143.74,307.38 146.21,309.02 148.67,310.69 151.14,312.39 153.6,314.13 156.06,315.89 158.53,317.68 160.99,319.5 163.46,321.35 165.92,323.23 168.39,325.14 170.85,327.07 173.32,329.02 175.78,331 178.24,333.01 180.71,335.04 183.17,337.09 185.64,339.17 188.1,341.26 190.57,343.38 193.03,345.52 195.5,347.68 197.96,349.85 200.42,352.05 202.89,354.26 205.35,356.49 207.82,358.73 210.28,360.99 212.75,363.26 215.21,365.55 217.68,367.85 220.14,370.16 222.6,372.48 225.07,374.81 227.53,377.15 230,379.5 232.46,381.86 234.93,384.22 237.39,386.59 239.86,388.96 242.32,391.33 244.78,393.71 247.25,396.08 249.71,398.46 252.18,400.83" fill="none" stroke="#f59a40" stroke-width="1.1"/>
<polyline points="55.02,270.79 57.49,271.03 59.95,271.32 62.42,271.64 64.88,272.01 67.34,272.43 69.81,272.88 72.27,273.38 74.74,273.93 77.2,274.51 79.67,275.14 82.13,275.81 84.6,276.52 87.06,277.27 89.52,278.07 91.99,278.9 94.45,279.78 96.92,280.7 99.38,281.66 101.85,282.66 104.31,283.69 106.78,284.77 109.24,285.89 111.7,287.04 114.17,288.24 116.63,289.47 119.1,290.74 121.56,292.05 124.03,293.39 126.49,294.77 128.96,296.19 131.42,297.64 133.88,299.13 136.35,300.65 138.81,302.21 141.28,303.8 143.74,305.42 146.21,307.08 148.67,308.77 151.14,310.49 153.6,312.24 156.06,314.02 158.53,315.83 160.99,317.67 163.46,319.54 165.92,321.44 168.39,323.37 170.85,325.32 173.32,327.3 175.78,329.3 178.24,331.33 180.71,333.39 183.17,335.47 185.64,337.57 188.1,339.69 190.57,341.84 193.03,344 195.5,346.19 197.96,348.4 200.42,350.62 202.89,352.87 205.35,355.13 207.82,357.41 210.28,359.7 212.75,362.01 215.21,364.34 217.68,366.67 220.14,369.03 222.6,371.39 225.07,373.76 227.53,376.15 230,378.54 232.46,380.95 234.93,383.36 237.39,385.78 239.86,388.2 242.32,390.63 244.78,393.07 247.25,395.5 249.71,397.94 252.18,400.38" fill="none" stroke="#6c84c4" stroke-width="1.1"/>
<circle cx="55.02" cy="268" r="1.43" fill="#6c84c4"/>
<circle cx="79.67" cy="277.88" r="1.43" fill="#6c84c4"/>
<circle cx="104.31" cy="285.95" r="1.43" fill="#6c84c4"/>
<circle cx="128.96" cy="298.07" r="1.43" fill="#6c84c4"/>
<circle cx="153.6" cy="313.77" r="1.43" fill="#6c84c4"/>
<circle cx="178.24" cy="333.07" r="1.43" fill="#6c84c4"/>
<circle cx="202.89" cy="355.96" r="1.43" fill="#6c84c4"/>
<circle cx="227.53" cy="379.74" r="1.43" fill="#6c84c4"/>
<circle cx="252.18" cy="401.28" r="1.43" fill="#6c84c4"/>
<polyline points="55.02,269.01 57.49,269.25 59.95,269.54 62.42,269.87 64.88,270.25 67.34,270.67 69.81,271.14 72.27,271.64 74.74,272.2 77.2,272.79 79.67,273.43 82.13,274.11 84.6,274.84 87.06,275.6 89.52,276.41 91.99,277.26 94.45,278.15 96.92,279.09 99.38,280.06 101.85,281.08 104.31,282.13 106.78,283.23 109.24,284.37 111.7,285.54 114.17,286.76 116.63,288.01 119.1,289.3 121.56,290.63 124.03,292 126.49,293.4 128.96,294.84 131.42,296.32 133.88,297.83 136.35,299.38 138.81,300.96 141.28,302.58 143.74,304.23 146.21,305.91 148.67,307.63 151.14,309.38 153.6,311.16 156.06,312.97 158.53,314.81 160.99,316.68 163.46,318.57 165.92,320.5 168.39,322.46 170.85,324.44 173.32,326.45 175.78,328.48 178.24,330.54 180.71,332.63 183.17,334.74 185.64,336.87 188.1,339.02 190.57,341.2 193.03,343.4 195.5,345.61 197.96,347.85 200.42,350.11 202.89,352.38 205.35,354.67 207.82,356.98 210.28,359.3 212.75,361.64 215.21,364 217.68,366.36 220.14,368.74 222.6,371.13 225.07,373.53 227.53,375.94 230,378.36 232.46,380.79 234.93,383.23 237.39,385.67 239.86,388.12 242.32,390.57 244.78,393.02 247.25,395.47 249.71,397.93 252.18,400.38" fill="none" stroke="#a0a4dc" stroke-width="1.1"/>
<polyline points="55.02,266.32 57.49,266.57 59.95,266.86 62.42,267.2 64.88,267.58 67.34,268 69.81,268.47 72.27,268.99 74.74,269.55 77.2,270.15 79.67,270.79 82.13,271.48 84.6,272.22 87.06,272.99 89.52,273.81 91.99,274.67 94.45,275.57 96.92,276.52 99.38,277.51 101.85,278.53 104.31,279.6 106.78,280.71 109.24,281.86 111.7,283.05 114.17,284.28 116.63,285.55 119.1,286.86 121.56,288.21 124.03,289.59 126.49,291.01 128.96,292.47 131.42,293.97 133.88,295.5 136.35,297.07 138.81,298.67 141.28,300.31 143.74,301.98 146.21,303.68 148.67,305.42 151.14,307.2 153.6,309 156.06,310.83 158.53,312.7 160.99,314.6 163.46,316.52 165.92,318.48 168.39,320.46 170.85,322.47 173.32,324.51 175.78,326.58 178.24,328.67 180.71,330.79 183.17,332.93 185.64,335.1 188.1,337.29 190.57,339.5 193.03,341.73 195.5,343.99 197.96,346.26 200.42,348.56 202.89,350.87 205.35,353.2 207.82,355.55 210.28,357.92 212.75,360.3 215.21,362.7 217.68,365.11 220.14,367.54 222.6,369.98 225.07,372.43 227.53,374.89 230,377.36 232.46,379.85 234.93,382.34 237.39,384.83 239.86,387.34 242.32,389.85 244.78,392.37 247.25,394.89 249.71,397.41 252.18,399.94" fill="none" stroke="#2e7d46" stroke-width="1.1"/>
<rect x="53.72" y="263.11" width="2.6" height="2.6" fill="#2e7d46"/>
<rect x="78.37" y="269.84" width="2.6" height="2.6" fill="#2e7d46"/>
<rect x="103.01" y="281.06" width="2.6" height="2.6" fill="#2e7d46"/>
<rect x="127.66" y="293.63" width="2.6" height="2.6" fill="#2e7d46"/>
<rect x="152.3" y="309.78" width="2.6" height="2.6" fill="#2e7d46"/>
<rect x="176.94" y="330.43" width="2.6" height="2.6" fill="#2e7d46"/>
<rect x="201.59" y="353.76" width="2.6" height="2.6" fill="#2e7d46"/>
<rect x="226.23" y="377.54" width="2.6" height="2.6" fill="#2e7d46"/>
<rect x="250.88" y="399.53" width="2.6" height="2.6" fill="#2e7d46"/>
<polyline points="55.02,264.09 57.49,264.34 59.95,264.64 62.42,264.98 64.88,265.37 67.34,265.81 69.81,266.29 72.27,266.81 74.74,267.38 77.2,268 79.67,268.66 82.13,269.36 84.6,270.11 87.06,270.9 89.52,271.74 91.99,272.62 94.45,273.54 96.92,274.5 99.38,275.51 101.85,276.56 104.31,277.65 106.78,278.79 109.24,279.96 111.7,281.17 114.17,282.43 116.63,283.72 119.1,285.06 121.56,286.43 124.03,287.85 126.49,289.3 128.96,290.79 131.42,292.31 133.88,293.88 136.35,295.47 138.81,297.11 141.28,298.78 143.74,300.49 146.21,302.22 148.67,304 151.14,305.8 153.6,307.64 156.06,309.51 158.53,311.42 160.99,313.35 163.46,315.31 165.92,317.3 168.39,319.32 170.85,321.37 173.32,323.45 175.78,325.55 178.24,327.68 180.71,329.84 183.17,332.02 185.64,334.22 188.1,336.45 190.57,338.7 193.03,340.97 195.5,343.26 197.96,345.58 200.42,347.91 202.89,350.26 205.35,352.63 207.82,355.02 210.28,357.42 212.75,359.84 215.21,362.28 217.68,364.72 220.14,367.18 222.6,369.66 225.07,372.14 227.53,374.64 230,377.14 232.46,379.65 234.93,382.17 237.39,384.7 239.86,387.23 242.32,389.77 244.78,392.31 247.25,394.85 249.71,397.39 252.18,399.94" fill="none" stroke="#f2a0b8" stroke-width="1.1"/>
<polygon points="55.02,255.16 56.65,256.78 55.02,258.41 53.4,256.78" fill="#f2a0b8"/>
<polygon points="79.67,266.38 81.29,268 79.67,269.63 78.04,268" fill="#f2a0b8"/>
<polygon points="104.31,276.25 105.94,277.88 104.31,279.5 102.69,277.88" fill="#f2a0b8"/>
<polygon points="128.96,291.96 130.58,293.58 128.96,295.21 127.33,293.58" fill="#f2a0b8"/>
<polygon points="153.6,308.56 155.23,310.19 153.6,311.81 151.98,310.19" fill="#f2a0b8"/>
<polygon points="178.24,329.2 179.87,330.83 178.24,332.45 176.62,330.83" fill="#f2a0b8"/>
<polygon points="202.89,353.44 204.51,355.06 202.89,356.69 201.26,355.06" fill="#f2a0b8"/>
<polygon points="227.53,377.67 229.16,379.29 227.53,380.92 225.91,379.29" fill="#f2a0b8"/>
<polygon points="252.18,399.66 253.8,401.28 252.18,402.91 250.55,401.28" fill="#f2a0b8"/>
<polyline points="55.02,262.75 57.49,263.01 59.95,263.31 62.42,263.66 64.88,264.05 67.34,264.49 69.81,264.98 72.27,265.51 74.74,266.09 77.2,266.71 79.67,267.38 82.13,268.09 84.6,268.85 87.06,269.65 89.52,270.5 91.99,271.39 94.45,272.32 96.92,273.3 99.38,274.32 101.85,275.38 104.31,276.48 106.78,277.63 109.24,278.82 111.7,280.05 114.17,281.32 116.63,282.63 119.1,283.98 121.56,285.37 124.03,286.8 126.49,288.27 128.96,289.78 131.42,291.32 133.88,292.9 136.35,294.52 138.81,296.17 141.28,297.87 143.74,299.59 146.21,301.35 148.67,303.14 151.14,304.97 153.6,306.83 156.06,308.72 158.53,310.65 160.99,312.6 163.46,314.58 165.92,316.6 168.39,318.64 170.85,320.71 173.32,322.81 175.78,324.94 178.24,327.09 180.71,329.27 183.17,331.47 185.64,333.7 188.1,335.95 190.57,338.22 193.03,340.52 195.5,342.83 197.96,345.17 200.42,347.53 202.89,349.9 205.35,352.29 207.82,354.7 210.28,357.13 212.75,359.57 215.21,362.02 217.68,364.49 220.14,366.97 222.6,369.47 225.07,371.97 227.53,374.48 230,377.01 232.46,379.54 234.93,382.08 237.39,384.62 239.86,387.17 242.32,389.72 244.78,392.27 247.25,394.83 249.71,397.38 252.18,399.94" fill="none" stroke="#f8c09a" stroke-width="1.1"/>
<polyline points="55.02,260.97 57.49,261.23 59.95,261.53 62.42,261.89 64.88,262.29 67.34,262.74 69.81,263.23 72.27,263.77 74.74,264.36 77.2,264.99 79.67,265.67 82.13,266.39 84.6,267.16 87.06,267.98 89.52,268.84 91.99,269.74 94.45,270.69 96.92,271.69 99.38,272.72 101.85,273.8 104.31,274.93 106.78,276.09 109.24,277.3 111.7,278.55 114.17,279.84 116.63,281.17 119.1,282.54 121.56,283.96 124.03,285.41 126.49,286.9 128.96,288.43 131.42,290 133.88,291.61 136.35,293.25 138.81,294.93 141.28,296.65 143.74,298.4 146.21,300.18 148.67,302.01 151.14,303.86 153.6,305.75 156.06,307.67 158.53,309.62 160.99,311.6 163.46,313.62 165.92,315.66 168.39,317.74 170.85,319.84 173.32,321.97 175.78,324.12 178.24,326.31 180.71,328.51 183.17,330.75 185.64,333 188.1,335.29 190.57,337.59 193.03,339.91 195.5,342.26 197.96,344.63 200.42,347.01 202.89,349.42 205.35,351.84 207.82,354.28 210.28,356.73 212.75,359.2 215.21,361.68 217.68,364.18 220.14,366.69 222.6,369.21 225.07,371.74 227.53,374.28 230,376.83 232.46,379.39 234.93,381.95 237.39,384.51 239.86,387.08 242.32,389.65 244.78,392.23 247.25,394.8 249.71,397.37 252.18,399.94" fill="none" stroke="#e6434c" stroke-width="1.1"/>
<polygon points="55.02,251.06 56.71,254.1 53.33,254.1" fill="#e6434c"/>
<polygon points="79.67,264.07 81.36,267.11 77.98,267.11" fill="#e6434c"/>
<polygon points="104.31,273.94 106,276.98 102.62,276.98" fill="#e6434c"/>
<polygon points="128.96,289.65 130.65,292.69 127.27,292.69" fill="#e6434c"/>
<polygon points="153.6,306.7 155.29,309.74 151.91,309.74" fill="#e6434c"/>
<polygon points="178.24,327.34 179.93,330.38 176.55,330.38" fill="#e6434c"/>
<polygon points="202.89,352.02 204.58,355.07 201.2,355.07" fill="#e6434c"/>
<polygon points="227.53,376.7 229.22,379.75 225.84,379.75" fill="#e6434c"/>
<polygon points="252.18,399.14 253.87,402.18 250.49,402.18" fill="#e6434c"/>
<polyline points="55.02,254.29 57.49,254.57 59.95,254.91 62.42,255.3 64.88,255.73 67.34,256.22 69.81,256.76 72.27,257.35 74.74,258 77.2,258.69 79.67,259.43 82.13,260.22 84.6,261.06 87.06,261.95 89.52,262.89 91.99,263.87 94.45,264.91 96.92,265.99 99.38,267.12 101.85,268.29 104.31,269.52 106.78,270.78 109.24,272.1 111.7,273.46 114.17,274.86 116.63,276.31 119.1,277.8 121.56,279.33 124.03,280.9 126.49,282.52 128.96,284.18 131.42,285.88 133.88,287.62 136.35,289.39 138.81,291.21 141.28,293.06 143.74,294.95 146.21,296.88 148.67,298.84 151.14,300.84 153.6,302.87 156.06,304.93 158.53,307.03 160.99,309.16 163.46,311.32 165.92,313.5 168.39,315.72 170.85,317.97 173.32,320.24 175.78,322.54 178.24,324.87 180.71,327.22 183.17,329.59 185.64,331.99 188.1,334.4 190.57,336.84 193.03,339.3 195.5,341.77 197.96,344.27 200.42,346.78 202.89,349.3 205.35,351.84 207.82,354.39 210.28,356.95 212.75,359.52 215.21,362.11 217.68,364.7 220.14,367.29 222.6,369.89 225.07,372.5 227.53,375.1 230,377.71 232.46,380.32 234.93,382.92 237.39,385.51 239.86,388.1 242.32,390.68 244.78,393.25 247.25,395.8 249.71,398.33 252.18,400.83" fill="none" stroke="#3a4a9c" stroke-width="1.1"/>
<polygon points="55.02,246.57 56.71,249.61 53.33,249.61" fill="#3a4a9c"/>
<polygon points="79.67,260.48 81.36,263.52 77.98,263.52" fill="#3a4a9c"/>
<polygon points="104.31,271.25 106,274.29 102.62,274.29" fill="#3a4a9c"/>
<polygon points="128.96,283.81 130.65,286.86 127.27,286.86" fill="#3a4a9c"/>
<polygon points="153.6,300.87 155.29,303.91 151.91,303.91" fill="#3a4a9c"/>
<polygon points="178.24,322.41 179.93,325.45 176.55,325.45" fill="#3a4a9c"/>
<polygon points="202.89,347.99 204.58,351.03 201.2,351.03" fill="#3a4a9c"/>
<polygon points="227.53,374.91 229.22,377.95 225.84,377.95" fill="#3a4a9c"/>
<polygon points="252.18,398.25 253.87,401.29 250.49,401.29" fill="#3a4a9c"/>
<rect x="42.7" y="233" width="221.8" height="179.5" fill="none" stroke="#262626" stroke-width="1.1"/>
<path d="M67.34 412.5v-1.8 M67.34 233v1.8 M91.99 412.5v-3.5 M91.99 233v3.5 M116.63 412.5v-1.8 M116.63 233v1.8 M141.28 412.5v-3.5 M141.28 233v3.5 M165.92 412.5v-1.8 M165.92 233v1.8 M190.57 412.5v-3.5 M190.57 233v3.5 M215.21 412.5v-1.8 M215.21 233v1.8 M239.86 412.5v-3.5 M239.86 233v3.5 M42.7 390.06h1.8 M264.5 390.06h-1.8 M42.7 367.62h3.5 M264.5 367.62h-3.5 M42.7 345.19h1.8 M264.5 345.19h-1.8 M42.7 322.75h3.5 M264.5 322.75h-3.5 M42.7 300.31h1.8 M264.5 300.31h-1.8 M42.7 277.88h3.5 M264.5 277.88h-3.5 M42.7 255.44h1.8 M264.5 255.44h-1.8" stroke="#262626" stroke-width="1.1" fill="none"/>
<text class="k" transform="translate(38.7 416.1) scale(0.93 1)" text-anchor="end" font-size="12.4">0.0</text>
<text class="k" transform="translate(38.7 371.22) scale(0.93 1)" text-anchor="end" font-size="12.4">0.1</text>
<text class="k" transform="translate(38.7 326.35) scale(0.93 1)" text-anchor="end" font-size="12.4">0.2</text>
<text class="k" transform="translate(38.7 281.47) scale(0.93 1)" text-anchor="end" font-size="12.4">0.3</text>
<text class="k" transform="translate(38.7 236.6) scale(0.93 1)" text-anchor="end" font-size="12.4">0.4</text>
<text class="k" transform="translate(42.7 425.5) scale(0.93 1)" text-anchor="middle" font-size="12.4">0°</text>
<text class="k" transform="translate(91.99 425.5) scale(0.93 1)" text-anchor="middle" font-size="12.4">20°</text>
<text class="k" transform="translate(141.28 425.5) scale(0.93 1)" text-anchor="middle" font-size="12.4">40°</text>
<text class="k" transform="translate(190.57 425.5) scale(0.93 1)" text-anchor="middle" font-size="12.4">60°</text>
<text class="k" transform="translate(239.86 425.5) scale(0.93 1)" text-anchor="middle" font-size="12.4">80°</text>
<text x="62" y="253" fill="#3a4a9c" font-size="11" font-weight="bold" text-anchor="start" stroke="#3a4a9c" stroke-width="0.25">Ta</text>
<text x="55.4" y="295.6" fill="#22b45a" font-size="11" font-weight="bold" text-anchor="start" stroke="#22b45a" stroke-width="0.25">V</text>
<text x="239.5" y="248.9" fill="#333" font-size="12" text-anchor="start">(c)</text>
<polyline points="397.65,216.45 398.25,220.91 398.84,225.35 399.44,229.75 400.03,234.11 400.63,238.43 401.22,242.7 401.82,246.93 402.41,251.12 403.01,255.25 403.6,259.34 404.2,263.37 404.79,267.35 405.39,271.27 405.98,275.14 406.58,278.95 407.17,282.7 407.77,286.39 408.37,290.02 408.96,293.59 409.56,297.1 410.15,300.54 410.75,303.92 411.34,307.24 411.94,310.49 412.53,313.67 413.13,316.79 413.72,319.85 414.32,322.84 414.91,325.77 415.51,328.63 416.1,331.42 416.7,334.15 417.29,336.82 417.89,339.42 418.48,341.95 419.08,344.42 419.67,346.83 420.27,349.18 420.88,351.46 421.5,353.69 422.12,355.85 422.73,357.95 423.35,359.99 423.97,361.98 424.58,363.9 425.2,365.77 425.82,367.59 426.43,369.34 427.05,371.05 427.67,372.7 428.28,374.3 428.9,375.84 429.52,377.34 430.13,378.78 430.75,380.18 431.37,381.53 431.98,382.84 432.6,384.1 433.22,385.31 433.83,386.48 434.45,387.61 435.07,388.7 435.68,389.75 436.3,390.76 436.92,391.73 437.53,392.67 438.15,393.57 438.77,394.43 439.38,395.26 440,396.06 440.62,396.82 441.23,397.56 441.85,398.26 442.47,398.94 443.08,399.58 443.7,400.2 444.32,400.8 444.93,401.37 445.55,401.91 446.17,402.43 446.78,402.93 447.4,403.4 448.02,403.86 448.63,404.29 449.25,404.7 449.87,405.1 450.48,405.47 451.1,405.83 451.72,406.17 452.33,406.5 452.95,406.81 453.57,407.1 454.18,407.38 454.8,407.65 455.42,407.9 456.03,408.14 456.65,408.37 457.27,408.59 457.88,408.8 458.5,408.99 459.12,409.18 459.73,409.35 460.35,409.52 460.97,409.68 461.58,409.82 462.2,409.97 462.82,410.1 463.43,410.23 464.05,410.35 464.67,410.46 465.28,410.56 465.9,410.67 466.52,410.76 467.13,410.85 467.75,410.93 468.37,411.01 468.98,411.09 469.6,411.16 470.22,411.23 470.83,411.29 471.45,411.35 472.07,411.4 472.68,411.45 473.3,411.5 473.92,411.55 474.53,411.59 475.15,411.63 475.77,411.67 476.38,411.71 477,411.74 477.62,411.77 478.23,411.8 478.85,411.83 479.47,411.85 480.08,411.88 480.7,411.9 481.32,411.92 481.93,411.94 482.55,411.96 483.17,411.98 483.78,411.99 484.4,412.01 485.02,412.02 485.63,412.03 486.25,412.05 486.87,412.06 487.48,412.07 488.1,412.08 488.72,412.09 489.33,412.1 489.95,412.1 490.57,412.11 491.18,412.12 491.8,412.12 492.42,412.13 493.03,412.13 493.65,412.14 494.27,412.14 494.88,412.15 495.5,412.15 496.12,412.16 496.73,412.16 497.35,412.16 497.97,412.17 498.58,412.17 499.2,412.17 499.82,412.17 500.43,412.18 501.05,412.18 501.67,412.18 502.28,412.18 502.9,412.18 503.52,412.18 504.13,412.19 504.75,412.19 505.37,412.19 505.98,412.19 506.6,412.19 507.22,412.19 507.83,412.19 508.45,412.19 509.07,412.19 509.68,412.19 510.3,412.19 510.92,412.19 511.53,412.19 512.15,412.2 512.77,412.2 513.38,412.2 514,412.2 514.62,412.2 515.23,412.2 515.85,412.2 516.47,412.2 517.08,412.2 517.7,412.2 518.32,412.2 518.93,412.2 519.55,412.2 520.17,412.2 520.78,412.2 521.4,412.2 522.02,412.2 522.63,412.2 523.25,412.2 523.87,412.2 524.48,412.2 525.1,412.2 525.72,412.2 526.33,412.2 526.95,412.2 527.57,412.2 528.18,412.2 528.8,412.2 529.42,412.2 530.03,412.2 530.65,412.2 531.27,412.2 531.88,412.2 532.5,412.2 533.12,412.2 533.73,412.2 534.35,412.2 534.97,412.2 535.58,412.2 536.2,412.2 536.82,412.2 537.43,412.2 538.05,412.2 538.67,412.2 539.28,412.2 539.9,412.2 540.52,412.2 541.13,412.2 541.75,412.2 542.37,412.2 542.98,412.2 543.6,412.2" fill="none" stroke="#8c8c8c" stroke-width="1.2" clip-path="url(#cd)"/>
<polyline points="396.83,216.45 397.45,220.91 398.07,225.35 398.68,229.75 399.3,234.11 399.92,238.43 400.53,242.7 401.15,246.93 401.77,251.12 402.38,255.25 403,259.34 403.62,263.37 404.23,267.35 404.85,271.27 405.47,275.14 406.08,278.95 406.7,282.7 407.32,286.39 407.93,290.02 408.55,293.59 409.17,297.1 409.78,300.54 410.4,303.92 411.02,307.24 411.63,310.49 412.25,313.67 412.87,316.79 413.48,319.85 414.1,322.84 414.72,325.77 415.33,328.63 415.95,331.42 416.57,334.15 417.18,336.82 417.8,339.42 418.42,341.95 419.03,344.42 419.65,346.83 420.27,349.18 420.88,351.46 421.5,353.69 422.12,355.85 422.73,357.95 423.35,359.99 423.97,361.98 424.58,363.9 425.2,365.77 425.82,367.59 426.43,369.34 427.05,371.05 427.67,372.7 428.28,374.3 428.9,375.84 429.52,377.34 430.13,378.78 430.75,380.18 431.37,381.53 431.98,382.84 432.6,384.1 433.22,385.31 433.83,386.48 434.45,387.61 435.07,388.7 435.68,389.75 436.3,390.76 436.92,391.73 437.53,392.67 438.15,393.57 438.77,394.43 439.38,395.26 440,396.06 440.62,396.82 441.23,397.56 441.85,398.26 442.47,398.94 443.08,399.58 443.7,400.2 444.32,400.8 444.93,401.37 445.55,401.91 446.17,402.43 446.78,402.93 447.4,403.4 448.02,403.86 448.63,404.29 449.25,404.7 449.87,405.1 450.48,405.47 451.1,405.83 451.72,406.17 452.33,406.5 452.95,406.81 453.57,407.1 454.18,407.38 454.8,407.65 455.42,407.9 456.03,408.14 456.65,408.37 457.27,408.59 457.88,408.8 458.5,408.99 459.12,409.18 459.73,409.35 460.35,409.52 460.97,409.68 461.58,409.82 462.2,409.97 462.82,410.1 463.43,410.23 464.05,410.35 464.67,410.46 465.28,410.56 465.9,410.67 466.52,410.76 467.13,410.85 467.75,410.93 468.37,411.01 468.98,411.09 469.6,411.16 470.22,411.23 470.83,411.29 471.45,411.35 472.07,411.4 472.68,411.45 473.3,411.5 473.92,411.55 474.53,411.59 475.15,411.63 475.77,411.67 476.38,411.71 477,411.74 477.62,411.77 478.23,411.8 478.85,411.83 479.47,411.85 480.08,411.88 480.7,411.9 481.32,411.92 481.93,411.94 482.55,411.96 483.17,411.98 483.78,411.99 484.4,412.01 485.02,412.02 485.63,412.03 486.25,412.05 486.87,412.06 487.48,412.07 488.1,412.08 488.72,412.09 489.33,412.1 489.95,412.1 490.57,412.11 491.18,412.12 491.8,412.12 492.42,412.13 493.03,412.13 493.65,412.14 494.27,412.14 494.88,412.15 495.5,412.15 496.12,412.16 496.73,412.16 497.35,412.16 497.97,412.17 498.58,412.17 499.2,412.17 499.82,412.17 500.43,412.18 501.05,412.18 501.67,412.18 502.28,412.18 502.9,412.18 503.52,412.18 504.13,412.19 504.75,412.19 505.37,412.19 505.98,412.19 506.6,412.19 507.22,412.19 507.83,412.19 508.45,412.19 509.07,412.19 509.68,412.19 510.3,412.19 510.92,412.19 511.53,412.19 512.15,412.2 512.77,412.2 513.38,412.2 514,412.2 514.62,412.2 515.23,412.2 515.85,412.2 516.47,412.2 517.08,412.2 517.7,412.2 518.32,412.2 518.93,412.2 519.55,412.2 520.17,412.2 520.78,412.2 521.4,412.2 522.02,412.2 522.63,412.2 523.25,412.2 523.87,412.2 524.48,412.2 525.1,412.2 525.72,412.2 526.33,412.2 526.95,412.2 527.57,412.2 528.18,412.2 528.8,412.2 529.42,412.2 530.03,412.2 530.65,412.2 531.27,412.2 531.88,412.2 532.5,412.2 533.12,412.2 533.73,412.2 534.35,412.2 534.97,412.2 535.58,412.2 536.2,412.2 536.82,412.2 537.43,412.2 538.05,412.2 538.67,412.2 539.28,412.2 539.9,412.2 540.52,412.2 541.13,412.2 541.75,412.2 542.37,412.2 542.98,412.2 543.6,412.2" fill="none" stroke="#5fd0f2" stroke-width="1.2" clip-path="url(#cd)"/>
<polyline points="378.33,228.34 379.57,229.92 380.8,231.52 382.03,233.14 383.27,234.78 384.5,236.43 385.73,238.1 386.97,239.79 388.2,241.49 389.43,243.2 390.67,244.93 391.9,246.68 393.13,248.44 394.37,250.21 395.6,251.99 396.83,253.79 398.07,255.59 399.3,257.41 400.53,259.24 401.77,261.08 403,262.92 404.23,264.78 405.47,266.64 406.7,268.52 407.93,270.4 409.17,272.28 410.4,274.18 411.63,276.08 412.87,277.98 414.1,279.89 415.33,281.81 416.57,283.73 417.8,285.65 419.03,287.57 420.27,289.5 421.5,291.43 422.73,293.36 423.97,295.29 425.2,297.23 426.43,299.16 427.67,301.09 428.9,303.02 430.13,304.95 431.37,306.88 432.6,308.81 433.83,310.73 435.07,312.65 436.3,314.56 437.53,316.47 438.77,318.38 440,320.28 441.23,322.18 442.47,324.06 443.7,325.94 444.93,327.82 446.17,329.68 447.4,331.54 448.63,333.39 449.87,335.23 451.1,337.06 452.33,338.88 453.57,340.69 454.8,342.48 456.03,344.27 457.27,346.04 458.5,347.8 459.73,349.55 460.97,351.28 462.2,353 463.43,354.7 464.67,356.39 465.9,358.06 467.13,359.72 468.37,361.35 469.6,362.98 470.83,364.58 472.07,366.17 473.3,367.73 474.53,369.28 475.77,370.81 477,372.31 478.23,373.8 479.47,375.27 480.7,376.71 481.93,378.13 483.17,379.53 484.4,380.9 485.63,382.25 486.87,383.58 488.1,384.88 489.33,386.16 490.57,387.41 491.8,388.64 493.03,389.84 494.27,391.01 495.5,392.15 496.73,393.26 497.97,394.35 499.2,395.41 500.43,396.44 501.67,397.43 502.9,398.4 504.13,399.33 505.37,400.24 506.6,401.11 507.83,401.95 509.07,402.75 510.3,403.53 511.53,404.26 512.77,404.97 514,405.63 515.23,406.27 516.47,406.86 517.7,407.42 518.93,407.94 520.17,408.43 521.4,408.87 522.63,409.28 523.87,409.65 525.1,409.98 526.33,410.27 527.57,410.52 528.8,410.72 530.03,410.89 531.27,411.01" fill="none" stroke="#12ace6" stroke-width="1.4" clip-path="url(#cd)"/>
<rect x="381.47" y="249.84" width="3.6" height="3.6" fill="#6a6a6a"/>
<rect x="406.13" y="318.71" width="3.6" height="3.6" fill="#6a6a6a"/>
<rect x="430.8" y="355.39" width="3.6" height="3.6" fill="#6a6a6a"/>
<rect x="455.47" y="378.2" width="3.6" height="3.6" fill="#6a6a6a"/>
<rect x="480.13" y="392.51" width="3.6" height="3.6" fill="#6a6a6a"/>
<rect x="504.8" y="401.45" width="3.6" height="3.6" fill="#6a6a6a"/>
<rect x="529.47" y="408.16" width="3.6" height="3.6" fill="#6a6a6a"/>
<polygon points="383.27,244.91 385.52,247.16 383.27,249.41 381.02,247.16" fill="#66d2f2"/>
<polygon points="407.93,313.79 410.18,316.04 407.93,318.29 405.68,316.04" fill="#66d2f2"/>
<polygon points="432.6,350.91 434.85,353.16 432.6,355.41 430.35,353.16" fill="#66d2f2"/>
<polygon points="457.27,374.17 459.52,376.42 457.27,378.67 455.02,376.42" fill="#66d2f2"/>
<polygon points="481.93,389.82 484.18,392.07 481.93,394.32 479.68,392.07" fill="#66d2f2"/>
<polygon points="506.6,400.11 508.85,402.36 506.6,404.61 504.35,402.36" fill="#66d2f2"/>
<polygon points="531.27,407.04 533.52,409.29 531.27,411.54 529.02,409.29" fill="#66d2f2"/>
<rect x="381.47" y="240" width="3.6" height="3.6" fill="#12ace6"/>
<rect x="406.13" y="278.91" width="3.6" height="3.6" fill="#12ace6"/>
<rect x="430.8" y="311.56" width="3.6" height="3.6" fill="#12ace6"/>
<rect x="455.47" y="342.87" width="3.6" height="3.6" fill="#12ace6"/>
<rect x="480.13" y="367.91" width="3.6" height="3.6" fill="#12ace6"/>
<rect x="504.8" y="387.14" width="3.6" height="3.6" fill="#12ace6"/>
<rect x="529.47" y="403.24" width="3.6" height="3.6" fill="#12ace6"/>
<rect x="321.6" y="233.3" width="222" height="178.9" fill="none" stroke="#262626" stroke-width="1.1"/>
<path d="M346.27 412.2v-1.8 M346.27 233.3v1.8 M370.93 412.2v-3.5 M370.93 233.3v3.5 M395.6 412.2v-1.8 M395.6 233.3v1.8 M420.27 412.2v-3.5 M420.27 233.3v3.5 M444.93 412.2v-1.8 M444.93 233.3v1.8 M469.6 412.2v-3.5 M469.6 233.3v3.5 M494.27 412.2v-1.8 M494.27 233.3v1.8 M518.93 412.2v-3.5 M518.93 233.3v3.5 M321.6 389.84h1.8 M543.6 389.84h-1.8 M321.6 367.48h3.5 M543.6 367.48h-3.5 M321.6 345.11h1.8 M543.6 345.11h-1.8 M321.6 322.75h3.5 M543.6 322.75h-3.5 M321.6 300.39h1.8 M543.6 300.39h-1.8 M321.6 278.02h3.5 M543.6 278.02h-3.5 M321.6 255.66h1.8 M543.6 255.66h-1.8" stroke="#262626" stroke-width="1.1" fill="none"/>
<text class="k" transform="translate(317.6 415.8) scale(0.93 1)" text-anchor="end" font-size="12.4">0.0</text>
<text class="k" transform="translate(317.6 371.07) scale(0.93 1)" text-anchor="end" font-size="12.4">0.1</text>
<text class="k" transform="translate(317.6 326.35) scale(0.93 1)" text-anchor="end" font-size="12.4">0.2</text>
<text class="k" transform="translate(317.6 281.62) scale(0.93 1)" text-anchor="end" font-size="12.4">0.3</text>
<text class="k" transform="translate(317.6 236.9) scale(0.93 1)" text-anchor="end" font-size="12.4">0.4</text>
<text class="k" transform="translate(321.6 425.2) scale(0.93 1)" text-anchor="middle" font-size="12.4">0°</text>
<text class="k" transform="translate(370.93 425.2) scale(0.93 1)" text-anchor="middle" font-size="12.4">20°</text>
<text class="k" transform="translate(420.27 425.2) scale(0.93 1)" text-anchor="middle" font-size="12.4">40°</text>
<text class="k" transform="translate(469.6 425.2) scale(0.93 1)" text-anchor="middle" font-size="12.4">60°</text>
<text class="k" transform="translate(518.93 425.2) scale(0.93 1)" text-anchor="middle" font-size="12.4">80°</text>
<text x="418.3" y="324" fill="#8a8a8a" font-size="11" font-weight="bold" text-anchor="start" stroke="#8a8a8a" stroke-width="0.25">Al</text>
<text x="403.2" y="333.3" fill="#c4c4c4" font-size="11" font-weight="bold" text-anchor="start" stroke="#c4c4c4" stroke-width="0.25">B</text>
<text x="401.3" y="371" fill="#66d2f2" font-size="11" font-weight="bold" text-anchor="start" stroke="#66d2f2" stroke-width="0.25">C</text>
<text x="493.3" y="379.5" fill="#12ace6" font-size="11" font-weight="bold" text-anchor="start" stroke="#12ace6" stroke-width="0.25">Si</text>
<text x="519.6" y="252.6" fill="#333" font-size="12" text-anchor="start">(d)</text>
<text class="k" transform="translate(14.8 101.5) rotate(-90)" text-anchor="middle" font-size="11.8">d<tspan baseline-shift="4.6" font-size="62%">2</tspan>Y/dΩ<tspan baseline-shift="4.6" font-size="62%">2</tspan> [atoms/ion sr<tspan baseline-shift="4.6" font-size="62%">−1</tspan>]</text>
<text class="k" transform="translate(296 101.1) rotate(-90)" text-anchor="middle" font-size="11.8">d<tspan baseline-shift="4.6" font-size="62%">2</tspan>Y/dΩ<tspan baseline-shift="4.6" font-size="62%">2</tspan> [atoms/ion sr<tspan baseline-shift="4.6" font-size="62%">−1</tspan>]</text>
<text class="k" transform="translate(17.8 321.5) rotate(-90)" text-anchor="middle" font-size="11.8">1/Y d<tspan baseline-shift="4.6" font-size="62%">2</tspan>Y/dΩ<tspan baseline-shift="4.6" font-size="62%">2</tspan> [atoms/ion sr<tspan baseline-shift="4.6" font-size="62%">−1</tspan>]</text>
<text class="k" transform="translate(296.8 321.5) rotate(-90)" text-anchor="middle" font-size="11.8">1/Y d<tspan baseline-shift="4.6" font-size="62%">2</tspan>Y/dΩ<tspan baseline-shift="4.6" font-size="62%">2</tspan> [atoms/ion sr<tspan baseline-shift="4.6" font-size="62%">−1</tspan>]</text>
<text class="k" x="151.1" y="218" text-anchor="middle" font-size="11.8">sputtering angle</text>
<text class="k" x="432.7" y="219.9" text-anchor="middle" font-size="11.8">sputtering angle</text>
<text class="k" x="153.6" y="444.5" text-anchor="middle" font-size="11.8">sputtering angle</text>
<text class="k" x="432.6" y="444.5" text-anchor="middle" font-size="11.8">sputtering angle</text>
</svg></body></html>
